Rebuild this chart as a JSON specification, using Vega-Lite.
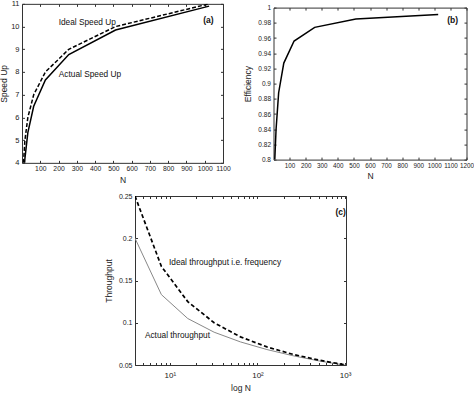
{
  "$schema": "https://vega.github.io/schema/vega-lite/v6.json",
  "padding": {"left": -2, "top": -1.5, "right": 0, "bottom": 0},
  "background": "white",
  "config": {
    "font": "Liberation Sans",
    "view": {"stroke": "#333", "strokeWidth": 1},
    "axis": {
      "grid": false, "domain": false, "ticks": true, "tickSize": -2.5, "tickColor": "#333", "tickCount": 100,
      "labelFontSize": 7, "labelColor": "#222", "labelPadding": 5, "labelOverlap": false, "labelFlush": false,
      "titleFontSize": 8.5, "titleFontWeight": "normal", "titleColor": "#222", "titlePadding": 3
    },
    "text": {"font": "Liberation Sans", "color": "#111"}
  },
  "datasets": {
    "perf": [
      {"N": 4, "ideal_tp": 0.25, "actual_tp": 0.2},
      {"N": 8, "ideal_speedup": 4, "actual_speedup": 3.2, "efficiency": 0.8, "ideal_tp": 0.1667, "actual_tp": 0.1333},
      {"N": 16, "ideal_speedup": 5, "actual_speedup": 4.2, "efficiency": 0.84, "ideal_tp": 0.125, "actual_tp": 0.105},
      {"N": 32, "ideal_speedup": 6, "actual_speedup": 5.33, "efficiency": 0.888, "ideal_tp": 0.1, "actual_tp": 0.0888},
      {"N": 64, "ideal_speedup": 7, "actual_speedup": 6.49, "efficiency": 0.927, "ideal_tp": 0.0833, "actual_tp": 0.0773},
      {"N": 128, "ideal_speedup": 8, "actual_speedup": 7.65, "efficiency": 0.956, "ideal_tp": 0.0714, "actual_tp": 0.0683},
      {"N": 256, "ideal_speedup": 9, "actual_speedup": 8.77, "efficiency": 0.974, "ideal_tp": 0.0625, "actual_tp": 0.0609},
      {"N": 512, "ideal_speedup": 10, "actual_speedup": 9.85, "efficiency": 0.985, "ideal_tp": 0.0556, "actual_tp": 0.0547},
      {"N": 1024, "ideal_speedup": 11, "actual_speedup": 10.9, "efficiency": 0.991, "ideal_tp": 0.05, "actual_tp": 0.0496}
    ],
    "notesA": [
      {"N": 357, "value": 10.17, "label": "Ideal Speed Up"},
      {"N": 372, "value": 7.85, "label": "Actual Speed Up"}
    ],
    "tagA": [{"N": 1020, "value": 10.27, "label": "(a)"}],
    "tagB": [{"N": 1114, "value": 0.9834, "label": "(b)"}],
    "notesC": [
      {"N": 42.6, "value": 0.1707, "label": "Ideal throughput i.e. frequency"},
      {"N": 12.2, "value": 0.0847, "label": "Actual throughput"}
    ],
    "tagC": [{"N": 891, "value": 0.2315, "label": "(c)"}]
  },
  "spacing": 6.5,
  "center": false,
  "vconcat": [
    {
      "hconcat": [
        {
          "width": 201, "height": 159,
          "resolve": {"axis": {"x": "independent", "y": "independent"}},
          "layer": [
            {
              "data": {"name": "perf"},
              "mark": {"type": "line", "clip": true, "color": "black", "strokeWidth": 1.5},
              "encoding": {
                "x": {"field": "N", "type": "quantitative", "scale": {"domain": [0, 1100], "nice": false},
                      "axis": {"title": "N", "format": "d", "values": [100, 200, 300, 400, 500, 600, 700, 800, 900, 1000, 1100], "labelFontSize": 6.8}},
                "y": {"field": "actual_speedup", "type": "quantitative", "scale": {"domain": [4, 11], "nice": false, "zero": false},
                      "axis": {"title": "Speed Up", "format": "d", "values": [4, 5, 6, 7, 8, 9, 10, 11], "labelPadding": 5.5, "labelFontSize": 7.5, "titlePadding": 2.2}}
              }
            },
            {
              "data": {"name": "perf"},
              "mark": {"type": "line", "clip": true, "color": "black", "strokeWidth": 1.5, "strokeDash": [4, 2]},
              "encoding": {
                "x": {"field": "N", "type": "quantitative", "axis": null},
                "y": {"field": "ideal_speedup", "type": "quantitative", "axis": null}
              }
            },
            {
              "data": {"name": "notesA"},
              "mark": {"type": "text", "fontSize": 8.3, "align": "center", "baseline": "middle"},
              "encoding": {
                "x": {"field": "N", "type": "quantitative", "axis": null},
                "y": {"field": "value", "type": "quantitative", "axis": null},
                "text": {"field": "label"}
              }
            },
            {
              "data": {"name": "tagA"},
              "mark": {"type": "text", "fontSize": 8.5, "fontWeight": "bold", "align": "center", "baseline": "middle"},
              "encoding": {
                "x": {"field": "N", "type": "quantitative",
                      "axis": {"orient": "top", "labels": false, "title": null, "values": [100, 200, 300, 400, 500, 600, 700, 800, 900, 1000, 1100]}},
                "y": {"field": "value", "type": "quantitative",
                      "axis": {"orient": "right", "labels": false, "title": null, "values": [4, 5, 6, 7, 8, 9, 10, 11]}},
                "text": {"field": "label"}
              }
            }
          ]
        },
        {
          "width": 193, "height": 152,
          "resolve": {"axis": {"x": "independent", "y": "independent"}},
          "layer": [
            {
              "data": {"name": "perf"},
              "mark": {"type": "line", "clip": true, "color": "black", "strokeWidth": 1.5},
              "encoding": {
                "x": {"field": "N", "type": "quantitative", "scale": {"domain": [0, 1200], "nice": false},
                      "axis": {"title": "N", "format": "d", "values": [100, 200, 300, 400, 500, 600, 700, 800, 900, 1000, 1100, 1200], "labelFontSize": 6.3}},
                "y": {"field": "efficiency", "type": "quantitative", "scale": {"domain": [0.8, 1], "nice": false, "zero": false},
                      "axis": {"title": "Efficiency", "format": ".2~f", "values": [0.8, 0.82, 0.84, 0.86, 0.88, 0.9, 0.92, 0.94, 0.96, 0.98, 1], "labelFontSize": 6.5, "labelPadding": 5.5, "titlePadding": 5}}
              }
            },
            {
              "data": {"name": "tagB"},
              "mark": {"type": "text", "fontSize": 8.5, "fontWeight": "bold", "align": "center", "baseline": "middle"},
              "encoding": {
                "x": {"field": "N", "type": "quantitative",
                      "axis": {"orient": "top", "labels": false, "title": null, "values": [100, 200, 300, 400, 500, 600, 700, 800, 900, 1000, 1100, 1200]}},
                "y": {"field": "value", "type": "quantitative",
                      "axis": {"orient": "right", "labels": false, "title": null, "values": [0.8, 0.82, 0.84, 0.86, 0.88, 0.9, 0.92, 0.94, 0.96, 0.98, 1]}},
                "text": {"field": "label"}
              }
            }
          ]
        }
      ],
      "spacing": 11.5,
      "center": true
    },
    {
      "hconcat": [
        {
          "width": 81, "height": 10,
          "data": {"values": []},
          "mark": "point",
          "view": {"stroke": null}
        },
        {
          "width": 211, "height": 169,
          "resolve": {"axis": {"x": "independent", "y": "independent"}},
          "layer": [
            {
              "data": {"name": "perf"},
              "mark": {"type": "line", "clip": true, "color": "#888", "strokeWidth": 1},
              "encoding": {
                "x": {"field": "N", "type": "quantitative", "scale": {"type": "log", "domain": [4, 1024], "nice": false},
                      "axis": {"title": "log N", "values": [4, 5, 6, 7, 8, 9, 10, 20, 30, 40, 50, 60, 70, 80, 90, 100, 200, 300, 400, 500, 600, 700, 800, 900, 1000],
                               "labelExpr": "datum.value == 10 ? '10¹' : datum.value == 100 ? '10²' : datum.value == 1000 ? '10³' : ''",
                               "labelFontSize": 8, "labelPadding": 9, "titlePadding": 4}},
                "y": {"field": "actual_tp", "type": "quantitative", "scale": {"domain": [0.05, 0.25], "nice": false, "zero": false},
                      "axis": {"title": "Throughput", "format": ".2~f", "values": [0.05, 0.1, 0.15, 0.2, 0.25], "labelPadding": 5.5, "titlePadding": 5}}
              }
            },
            {
              "data": {"name": "perf"},
              "mark": {"type": "line", "clip": true, "color": "black", "strokeWidth": 1.7, "strokeDash": [4, 2.5]},
              "encoding": {
                "x": {"field": "N", "type": "quantitative", "axis": null},
                "y": {"field": "ideal_tp", "type": "quantitative", "axis": null}
              }
            },
            {
              "data": {"name": "notesC"},
              "mark": {"type": "text", "fontSize": 8.3, "align": "center", "baseline": "middle"},
              "encoding": {
                "x": {"field": "N", "type": "quantitative", "axis": null},
                "y": {"field": "value", "type": "quantitative", "axis": null},
                "text": {"field": "label"}
              }
            },
            {
              "data": {"name": "tagC"},
              "mark": {"type": "text", "fontSize": 8.5, "fontWeight": "bold", "align": "center", "baseline": "middle"},
              "encoding": {
                "x": {"field": "N", "type": "quantitative",
                      "axis": {"orient": "top", "labels": false, "title": null, "values": [4, 5, 6, 7, 8, 9, 10, 20, 30, 40, 50, 60, 70, 80, 90, 100, 200, 300, 400, 500, 600, 700, 800, 900, 1000]}},
                "y": {"field": "value", "type": "quantitative",
                      "axis": {"orient": "right", "labels": false, "title": null, "values": [0.05, 0.1, 0.15, 0.2, 0.25]}},
                "text": {"field": "label"}
              }
            }
          ]
        }
      ],
      "spacing": 0
    }
  ]
}
